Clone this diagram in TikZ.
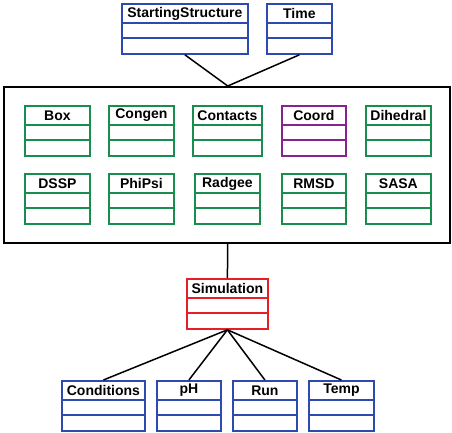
\documentclass[tikz,border=0pt]{standalone}
\usepackage{fontspec}
\setmainfont{Liberation Sans}
\usetikzlibrary{calc}
\definecolor{cblue}{RGB}{45,75,175}
\definecolor{cgreen}{RGB}{25,140,80}
\definecolor{cpurple}{RGB}{135,35,145}
\definecolor{cred}{RGB}{230,30,40}
\tikzset{
  classbox/.style={draw=#1, line width=1.8pt, minimum height=50pt, inner sep=0pt, anchor=north west},
  classtitle/.style={font=\fontsize{14}{15}\selectfont\bfseries, inner sep=0pt},
  conn/.style={draw=black, line width=1.5pt},
  framebox/.style={draw=black, line width=1.5pt, inner sep=0pt, anchor=north west}
}
% #1 name, #2 colour, #3 left x, #4 top y, #5 width, #6 label
\newcommand\umlclass[6]{%
  \node[classbox=#2, minimum width=#5pt] (#1) at (#3,#4) {};
  \node[classtitle] (#1-t) at ($(#1.north)+(0,10.5)$) {#6};
  \draw[#2, line width=1.8pt] ($(#1.north west)+(0,20)$) -- ($(#1.north east)+(0,20)$);
  \draw[#2, line width=1.8pt] ($(#1.north west)+(0,35)$) -- ($(#1.north east)+(0,35)$);
}
\begin{document}
\begin{tikzpicture}[x=1pt,y=-1pt]
\useasboundingbox (0,0) rectangle (452,432);
% frame
\node[framebox, minimum width=446pt, minimum height=156pt] (frame) at (3,86) {};
% top
\umlclass{ss}{cblue}{121}{3}{126}{StartingStructure}
\umlclass{time}{cblue}{266}{3}{65}{Time}
% row 1
\umlclass{box}{cgreen}{24}{105}{65}{Box}
\umlclass{congen}{cgreen}{108}{105}{65}{Congen}
\umlclass{contacts}{cgreen}{192}{105}{69}{Contacts}
\umlclass{coord}{cpurple}{281}{105}{64}{Coord}
\umlclass{dihedral}{cgreen}{365}{105}{65}{Dihedral}
% row 2
\umlclass{dssp}{cgreen}{24}{173}{65}{DSSP}
\umlclass{phipsi}{cgreen}{108}{173}{65}{PhiPsi}
\umlclass{radgee}{cgreen}{194}{173}{65}{Radgee}
\umlclass{rmsd}{cgreen}{281}{173}{64}{RMSD}
\umlclass{sasa}{cgreen}{365}{173}{65}{SASA}
% simulation
\umlclass{sim}{cred}{186}{278}{81}{Simulation}
% bottom
\umlclass{cond}{cblue}{61}{380}{83}{Conditions}
\umlclass{ph}{cblue}{156}{380}{64}{pH}
\umlclass{run}{cblue}{232}{380}{64}{Run}
\umlclass{temp}{cblue}{308}{380}{65}{Temp}
% connectors
\coordinate (join) at ($(frame.north)+(1,0)$);
\draw[conn] (ss.south) -- (join);
\draw[conn] (time.south) -- (join);
\draw[conn] ($(frame.south)+(1,0)$) -- (sim.north);
\draw[conn] (sim.south) -- (cond.north);
\draw[conn] (sim.south) -- (ph.north);
\draw[conn] (sim.south) -- (run.north);
\draw[conn] (sim.south) -- (temp.north);
\end{tikzpicture}
\end{document}
